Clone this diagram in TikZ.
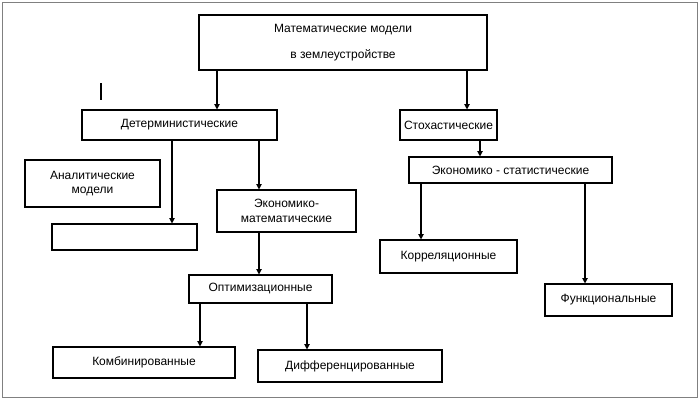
\documentclass[tikz,border=0pt]{standalone}
\usepackage{fontspec}
\setmainfont{Liberation Sans}
\usetikzlibrary{arrows.meta}
\tikzset{
box/.style = {rectangle, draw, thick, inner sep = 0pt, align = center,
   font = \fontsize{9}{11}\selectfont},
arr/.style = {-{Triangle[length = 4pt, width = 4pt]}, thick}
}

\begin{document}
\begin{tikzpicture}[x = 0.75pt, y = -0.75pt]

%% Frame
\draw [gray, thin] (2,2) rectangle (697,397);
\useasboundingbox (0,0) rectangle (699,400);

%% Top
\node [box, minimum width = 288*0.75pt, minimum height = 55*0.75pt] (top) at (343,42.5)
   {Математические модели\\[8pt]в землеустройстве};
\draw [thick] (101,83) -- (101,100);

%% Deterministic branch
\node [box, minimum width = 195*0.75pt, minimum height = 30*0.75pt] (det) at (179.5,125) {Детерминистические};
\node [box, minimum width = 135*0.75pt, minimum height = 47*0.75pt] (anal) at (92.5,183.5) {Аналитические\\модели};
\node [box, minimum width = 145*0.75pt, minimum height = 26*0.75pt] (empty) at (124.5,237) {};
\node [box, minimum width = 139*0.75pt, minimum height = 42*0.75pt] (econ) at (286.5,211) {Экономико-\\математические};
\node [box, minimum width = 143*0.75pt, minimum height = 28*0.75pt] (opt) at (260.5,289) {Оптимизационные};
\node [box, minimum width = 182*0.75pt, minimum height = 31*0.75pt] (comb) at (144,362.5) {Комбинированные};
\node [box, minimum width = 184*0.75pt, minimum height = 32*0.75pt] (diff) at (350,366) {Дифференцированные};

%% Stochastic branch
\node [box, minimum width = 97*0.75pt, minimum height = 30*0.75pt] (stoch) at (448.5,125) {Стохастические};
\node [box, minimum width = 203*0.75pt, minimum height = 26*0.75pt] (stat) at (510.5,170) {Экономико - статистические};
\node [box, minimum width = 137*0.75pt, minimum height = 33*0.75pt] (corr) at (448.5,256.5) {Корреляционные};
\node [box, minimum width = 127*0.75pt, minimum height = 32*0.75pt] (func) at (608.5,300) {Функциональные};

%% Arrows
\draw [arr] (top.south -| 217,0) -- (det.north -| 217,0);
\draw [arr] (top.south -| 467,0) -- (stoch.north -| 467,0);
\draw [arr] (det.south -| 172,0) -- (empty.north -| 172,0);
\draw [arr] (det.south -| 259,0) -- (econ.north -| 259,0);
\draw [arr] (econ.south -| 259,0) -- (opt.north -| 259,0);
\draw [arr] (opt.south -| 200,0) -- (comb.north -| 200,0);
\draw [arr] (opt.south -| 307,0) -- (diff.north -| 307,0);
\draw [arr] (stoch.south -| 480,0) -- (stat.north -| 480,0);
\draw [arr] (stat.south -| 421,0) -- (corr.north -| 421,0);
\draw [arr] (stat.south -| 585,0) -- (func.north -| 585,0);

\end{tikzpicture}
\end{document}
